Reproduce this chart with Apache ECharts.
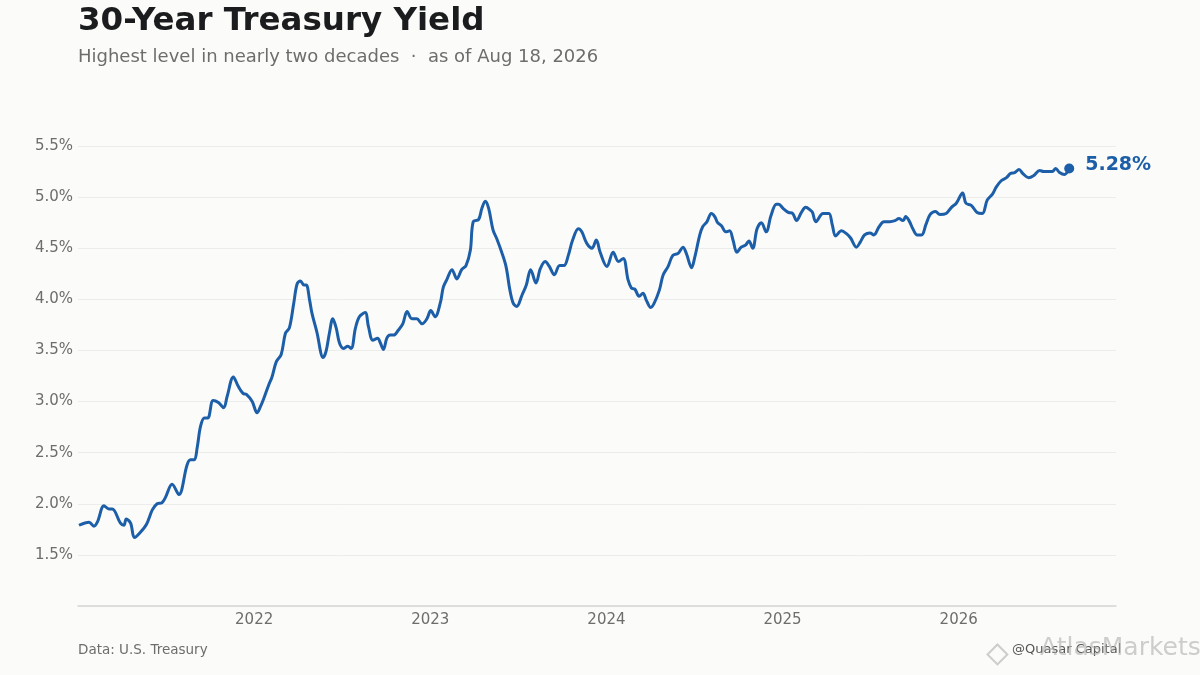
<!DOCTYPE html>
<html>
<head>
<meta charset="utf-8">
<script src="https://cdn.jsdelivr.net/npm/echarts@6/dist/echarts.min.js"></script>
<style>
html,body{margin:0;padding:0;background:#fbfbf9;}
#chart{width:1200px;height:675px;}
</style>
</head>
<body>
<div id="chart"></div>
<script>
const titleText = '30-Year Treasury Yield';
const subtitleText = 'Highest level in nearly two decades  ·  as of Aug 18, 2026';
const sourceText = 'Data: U.S. Treasury';

const dates = [
'2021-01-03','2021-01-24','2021-02-03','2021-02-10','2021-02-24','2021-03-06','2021-03-13','2021-03-30','2021-04-06','2021-04-11','2021-04-20','2021-04-28','2021-05-10','2021-05-23','2021-06-04','2021-06-14','2021-06-24','2021-07-01','2021-07-15','2021-07-29','2021-08-15','2021-08-22','2021-08-30','2021-09-05','2021-09-12','2021-09-20','2021-09-27','2021-10-08','2021-10-19','2021-10-30','2021-11-06','2021-11-19','2021-11-29','2021-12-09','2021-12-16','2021-12-28',
'2022-01-07','2022-01-14','2022-01-21','2022-01-31','2022-02-07','2022-02-16','2022-02-26','2022-03-07','2022-03-15','2022-03-24','2022-03-31','2022-04-07','2022-04-14','2022-04-19','2022-04-26','2022-05-01','2022-05-11','2022-05-24','2022-05-30','2022-06-06','2022-06-13','2022-06-20','2022-06-27','2022-07-05','2022-07-14','2022-07-21','2022-07-30','2022-08-07','2022-08-19','2022-08-26','2022-09-04','2022-09-14','2022-09-19','2022-09-26','2022-10-03','2022-10-10','2022-10-17','2022-10-27','2022-11-05','2022-11-14','2022-11-24','2022-12-04','2022-12-15','2022-12-25',
'2023-01-02','2023-01-11','2023-01-22','2023-01-28','2023-02-04','2023-02-15','2023-02-25','2023-03-07','2023-03-16','2023-03-25','2023-03-31','2023-04-11','2023-04-18','2023-04-25','2023-05-02','2023-05-11','2023-05-19','2023-05-29','2023-06-07','2023-06-15','2023-06-22','2023-06-29','2023-07-10','2023-07-19','2023-07-28','2023-08-08','2023-08-17','2023-08-27','2023-09-05','2023-09-15','2023-09-26','2023-10-05','2023-10-14','2023-10-23','2023-11-04','2023-11-11','2023-11-21','2023-12-02','2023-12-11','2023-12-19',
'2024-01-02','2024-01-15','2024-01-26','2024-02-05','2024-02-15','2024-02-22','2024-02-29','2024-03-09','2024-03-17','2024-03-24','2024-04-02','2024-04-09','2024-04-20','2024-04-28','2024-05-08','2024-05-18','2024-05-29','2024-06-08','2024-06-15','2024-06-26','2024-07-02','2024-07-13','2024-07-19','2024-07-28','2024-08-06','2024-08-13','2024-08-19','2024-08-27','2024-09-05','2024-09-13','2024-09-20','2024-09-28','2024-10-07','2024-10-16','2024-10-23','2024-10-31','2024-11-09','2024-11-18','2024-11-28','2024-12-08','2024-12-19','2024-12-24',
'2025-01-02','2025-01-13','2025-01-22','2025-01-30','2025-02-09','2025-02-18','2025-02-28','2025-03-04','2025-03-11','2025-03-26','2025-04-07','2025-04-14','2025-04-21','2025-05-03','2025-05-14','2025-05-22','2025-06-03','2025-06-11','2025-06-20','2025-07-01','2025-07-09','2025-07-20','2025-07-30','2025-08-11','2025-08-22','2025-08-30','2025-09-08','2025-09-13','2025-09-20','2025-09-29','2025-10-07','2025-10-16','2025-10-25','2025-11-03','2025-11-14','2025-11-23','2025-12-06','2025-12-17','2025-12-27',
'2026-01-09','2026-01-16','2026-01-27','2026-02-08','2026-02-19','2026-03-01','2026-03-12','2026-03-20','2026-03-30','2026-04-10','2026-04-18','2026-04-27','2026-05-06','2026-05-14','2026-05-26','2026-06-05','2026-06-18','2026-06-26','2026-07-05','2026-07-14','2026-07-21','2026-07-29','2026-08-08','2026-08-18'
];

const yields = [
1.79,1.82,1.78,1.82,1.98,1.95,1.95,1.81,1.79,1.85,1.81,1.67,1.72,1.80,1.94,2.00,2.01,2.06,2.19,2.09,2.38,2.43,2.43,2.55,2.76,2.84,2.84,3.01,2.99,2.94,3.05,3.24,3.15,3.08,3.07,3.00,
2.89,2.95,3.03,3.16,3.24,3.39,3.46,3.67,3.72,3.96,4.15,4.18,4.14,4.14,3.99,3.86,3.68,3.43,3.49,3.67,3.81,3.72,3.57,3.52,3.54,3.52,3.72,3.83,3.87,3.73,3.60,3.62,3.58,3.51,3.62,3.65,3.65,3.70,3.76,3.88,3.81,3.81,3.76,3.81,
3.89,3.83,3.97,4.12,4.19,4.29,4.20,4.29,4.33,4.48,4.76,4.78,4.89,4.96,4.89,4.68,4.59,4.46,4.32,4.09,3.96,3.93,4.04,4.14,4.29,4.16,4.30,4.37,4.32,4.24,4.33,4.33,4.43,4.58,4.69,4.66,4.55,4.50,4.58,4.46,
4.32,4.46,4.37,4.40,4.19,4.11,4.10,4.03,4.06,3.99,3.92,3.96,4.09,4.24,4.32,4.43,4.45,4.51,4.45,4.31,4.40,4.63,4.71,4.76,4.84,4.81,4.75,4.72,4.66,4.67,4.58,4.46,4.51,4.53,4.57,4.50,4.69,4.75,4.66,4.82,4.93,4.93,
4.89,4.85,4.84,4.77,4.85,4.90,4.87,4.85,4.76,4.84,4.84,4.73,4.62,4.67,4.64,4.60,4.51,4.56,4.63,4.65,4.63,4.71,4.76,4.76,4.77,4.79,4.77,4.81,4.77,4.68,4.63,4.63,4.73,4.83,4.86,4.83,4.84,4.90,4.94,
5.04,4.94,4.92,4.85,4.84,4.97,5.03,5.10,5.16,5.19,5.23,5.24,5.27,5.23,5.19,5.21,5.26,5.25,5.25,5.25,5.28,5.24,5.22,5.28
];

const yearTicks = [2022, 2023, 2024, 2025, 2026];
const yTickLabels = ['1.5%','2.0%','2.5%','3.0%','3.5%','4.0%','4.5%','5.0%','5.5%'];

function toDecimalYear(s) {
  const p = s.split('-').map(Number);
  const t = Date.UTC(p[0], p[1] - 1, p[2]);
  const a = Date.UTC(p[0], 0, 1), b = Date.UTC(p[0] + 1, 0, 1);
  return p[0] + (t - a) / (b - a);
}

const lineData = dates.map((d, i) => [toDecimalYear(d), yields[i]]);
const last = lineData[lineData.length - 1];
const lineColor = '#1c5ea8';
const font = 'DejaVu Sans';

const chart = echarts.init(document.getElementById('chart'), null, {renderer: 'canvas'});
chart.setOption({
  backgroundColor: '#fbfbf9',
  animation: false,
  textStyle: {fontFamily: font},
  title: [
    {text: titleText, left: 73, top: 0, textStyle: {fontFamily: font, fontSize: 32.5, fontWeight: 'bold', color: '#1b1c1e'}},
    {text: subtitleText, left: 73, top: 43, textStyle: {fontFamily: font, fontSize: 18, fontWeight: 'normal', color: '#6d6d6d'}},
    {text: sourceText, left: 73, top: 638, textStyle: {fontFamily: font, fontSize: 13.5, fontWeight: 'normal', color: '#6d6d6d'}}
  ],
  grid: {left: 78, right: 84, top: 146, bottom: 69},
  xAxis: {
    type: 'value',
    min: 2021,
    max: 2026.893,
    interval: 1,
    axisLine: {show: true, lineStyle: {color: '#d6d6d6', width: 1.5}},
    axisTick: {show: false},
    splitLine: {show: false},
    axisLabel: {
      fontFamily: font, fontSize: 15, color: '#6d6d6d', margin: 7,
      showMinLabel: false, showMaxLabel: false,
      formatter: v => yearTicks.indexOf(Math.round(v * 1000) / 1000) >= 0 ? String(v) : ''
    }
  },
  yAxis: {
    type: 'value',
    min: 1.0,
    max: 5.5,
    interval: 0.5,
    axisLine: {show: false},
    axisTick: {show: false},
    splitLine: {show: true, lineStyle: {color: '#ececea', width: 1}},
    axisLabel: {
      fontFamily: font, fontSize: 15, color: '#6d6d6d', margin: 5,
      showMinLabel: false,
      formatter: v => {
        const s = v.toFixed(1) + '%';
        return yTickLabels.indexOf(s) >= 0 ? s : '';
      }
    }
  },
  series: [
    {
      type: 'line',
      data: lineData,
      smooth: 0.35,
      showSymbol: false,
      symbol: 'none',
      lineStyle: {color: lineColor, width: 3},
      z: 3
    },
    {
      type: 'scatter',
      data: [last],
      symbolSize: 10,
      itemStyle: {color: lineColor, opacity: 1},
      label: {
        show: true, position: 'right', distance: 11, offset: [0, -3],
        formatter: p => p.value[1].toFixed(2) + '%',
        fontFamily: font, fontSize: 19, fontWeight: 'bold', color: lineColor
      },
      z: 4
    }
  ],
  graphic: [
    {type: 'text', left: 1012, top: 643, style: {text: '@Quasar Capital', fontFamily: font, fontSize: 13, fill: '#555'}},
    {type: 'text', left: 1040, top: 636, style: {text: 'AtlasMarkets', fontFamily: font, fontSize: 25, fill: 'rgba(175,175,175,0.6)'}},
    {type: 'rect', left: 984, top: 641, rotation: Math.PI / 4, shape: {width: 14, height: 14}, style: {fill: 'none', stroke: 'rgba(180,180,180,0.65)', lineWidth: 2}}
  ]
});
</script>
</body>
</html>
